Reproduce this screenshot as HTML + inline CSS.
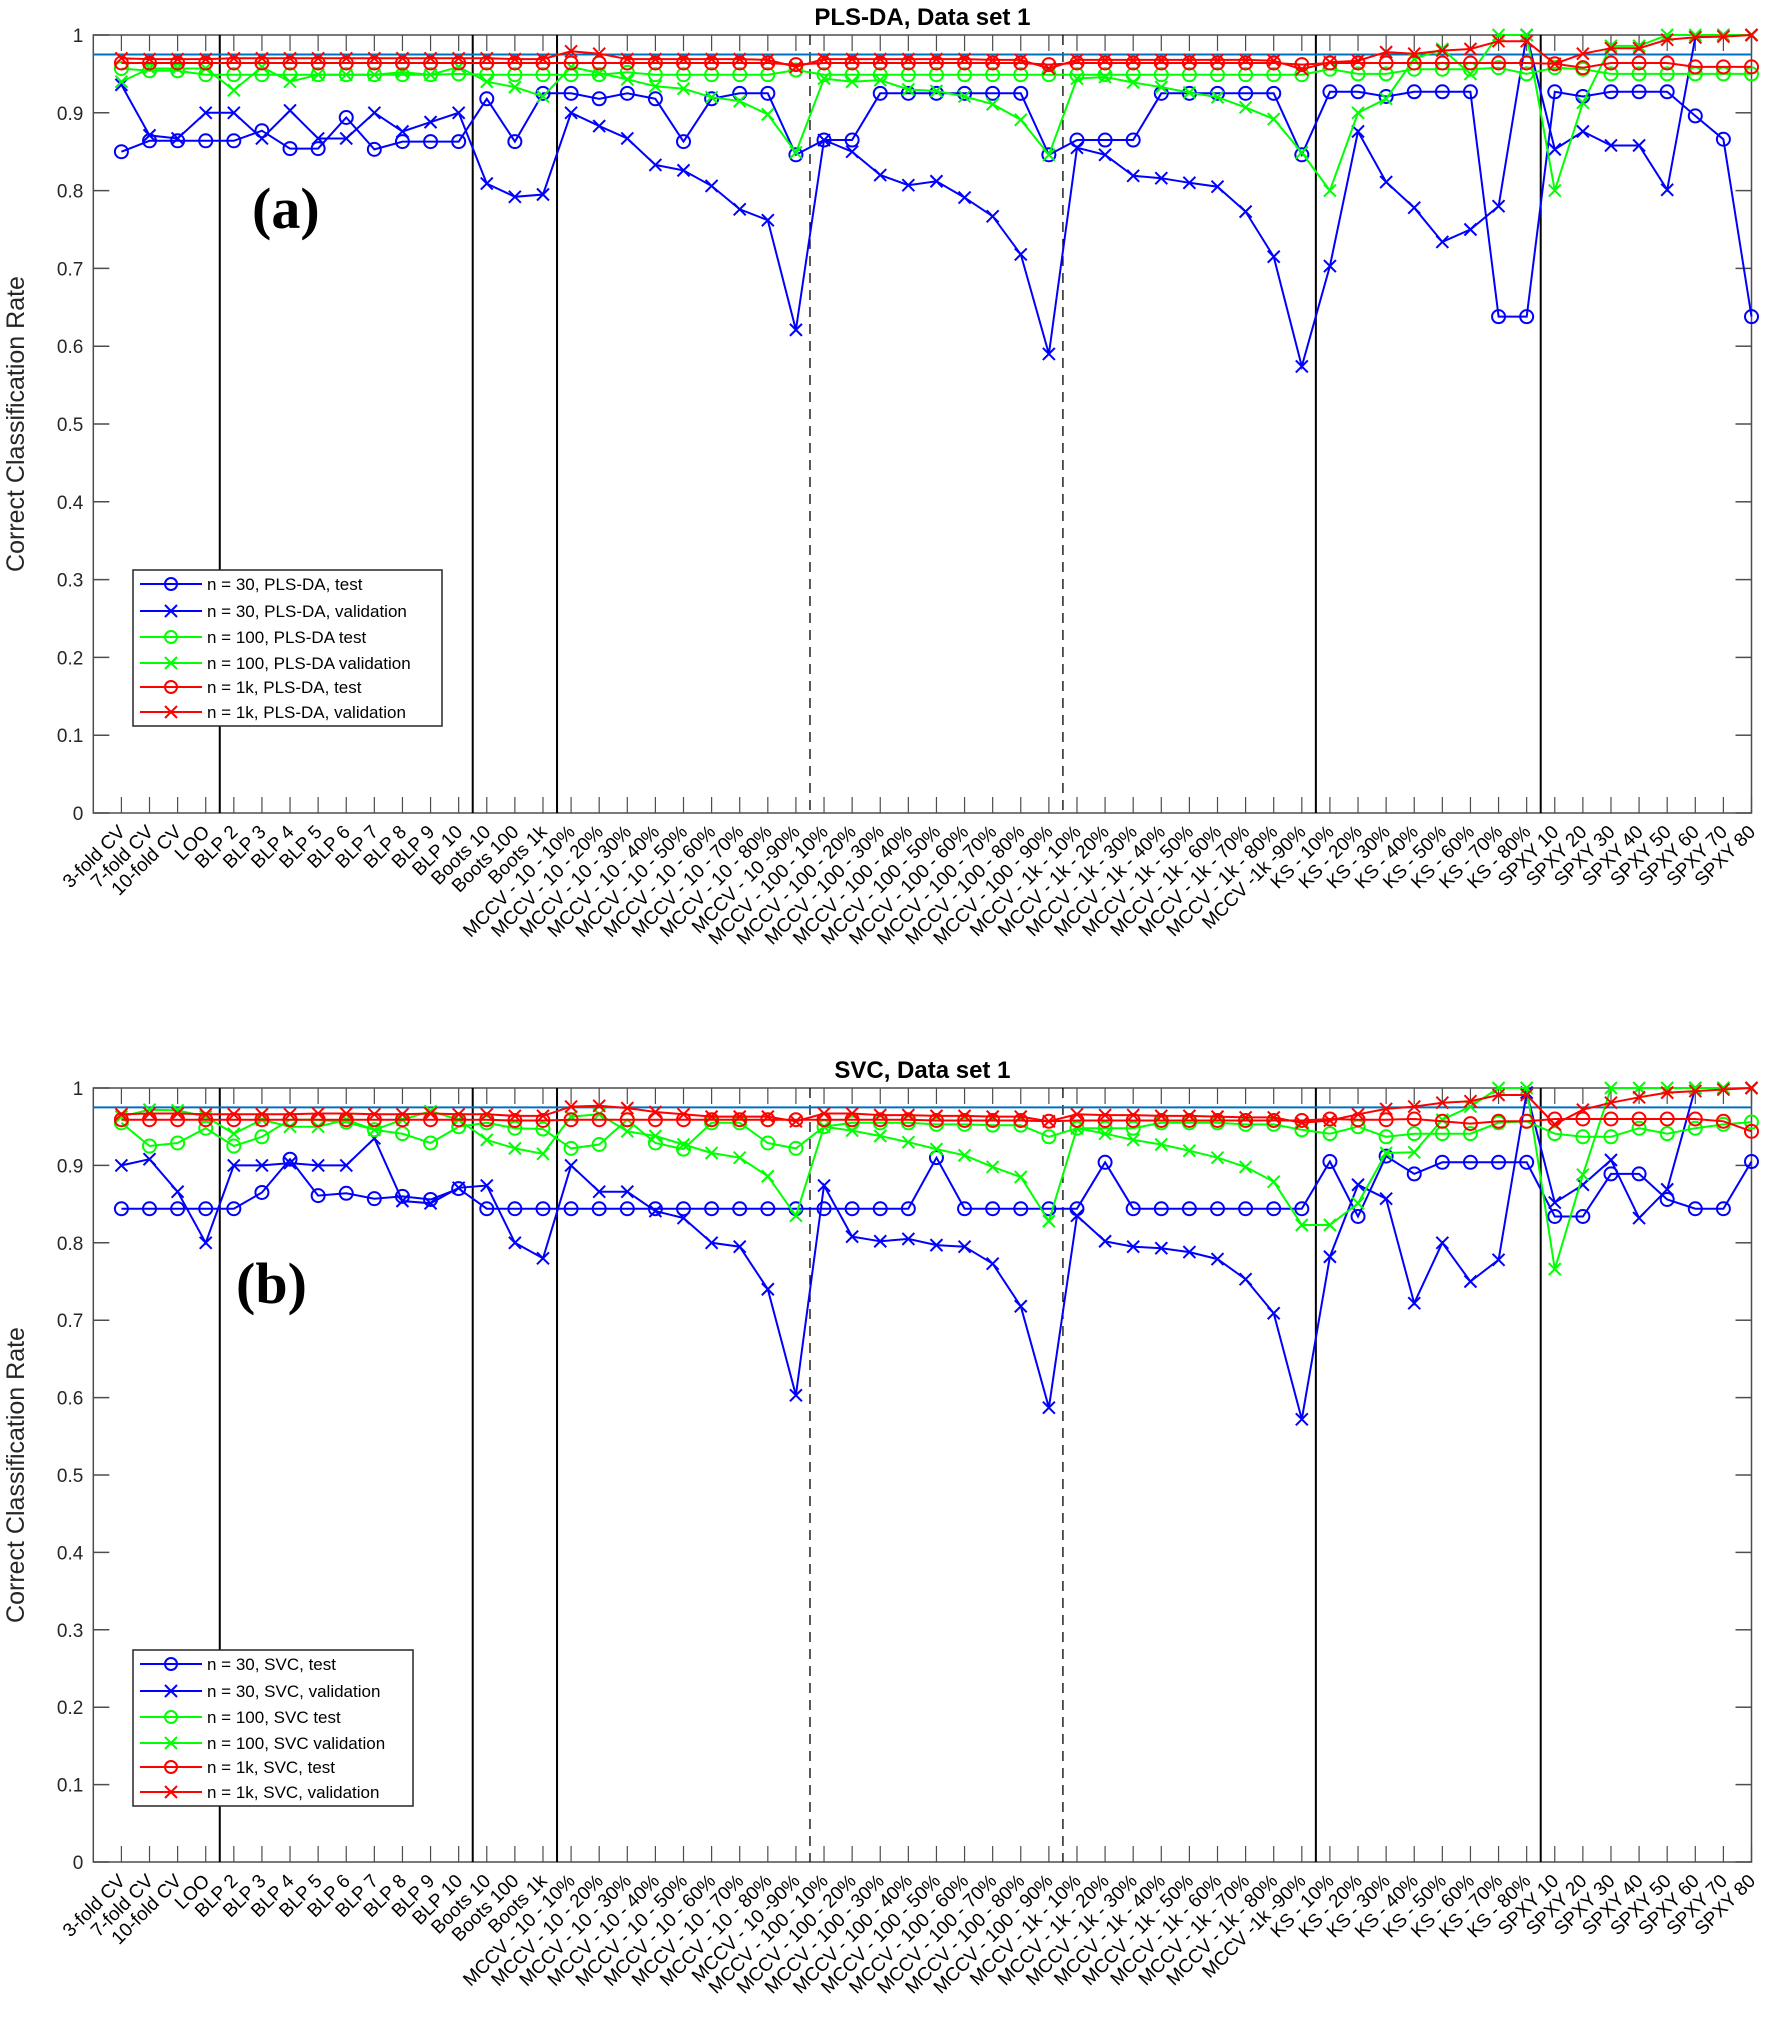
<!DOCTYPE html>
<html><head><meta charset="utf-8"><style>
html,body{margin:0;padding:0;background:#fff;}
svg{display:block;font-family:"Liberation Sans",Arial,sans-serif;}
</style></head><body>
<svg id="fig" width="1773" height="2020" viewBox="0 0 1773 2020" xmlns="http://www.w3.org/2000/svg"></svg>
<script>
// ---- data ----
const categories = ["3-fold CV","7-fold CV","10-fold CV","LOO","BLP 2","BLP 3","BLP 4","BLP 5","BLP 6","BLP 7","BLP 8","BLP 9","BLP 10","Boots 10","Boots 100","Boots 1k",
"MCCV - 10 - 10%","MCCV - 10 - 20%","MCCV - 10 - 30%","MCCV - 10 - 40%","MCCV - 10 - 50%","MCCV - 10 - 60%","MCCV - 10 - 70%","MCCV - 10 - 80%","MCCV - 10 -90%",
"MCCV - 100 - 10%","MCCV - 100 - 20%","MCCV - 100 - 30%","MCCV - 100 - 40%","MCCV - 100 - 50%","MCCV - 100 - 60%","MCCV - 100 - 70%","MCCV - 100 - 80%","MCCV - 100 - 90%",
"MCCV - 1k - 10%","MCCV - 1k - 20%","MCCV - 1k - 30%","MCCV - 1k - 40%","MCCV - 1k - 50%","MCCV - 1k - 60%","MCCV - 1k - 70%","MCCV - 1k - 80%","MCCV -1k -90%",
"KS - 10%","KS - 20%","KS - 30%","KS - 40%","KS - 50%","KS - 60%","KS - 70%","KS - 80%",
"SPXY 10","SPXY 20","SPXY 30","SPXY 40","SPXY 50","SPXY 60","SPXY 70","SPXY 80"];
const yTicks = [0,0.1,0.2,0.3,0.4,0.5,0.6,0.7,0.8,0.9,1];
const yTickLabels = ["0","0.1","0.2","0.3","0.4","0.5","0.6","0.7","0.8","0.9","1"];
const solidSeparators = [4.5,13.5,16.5,43.5,51.5];
const dashedSeparators = [25.5,34.5];
const referenceLevel = 0.975;

const aBlueTest = [0.85,0.864,0.864,0.864,0.864,0.877,0.854,0.854,0.894,0.853,0.863,0.863,0.863, 0.918,0.863,0.925, 0.925,0.918,0.925,0.918,0.863,0.918,0.925,0.925,0.846, 0.865,0.865,0.925,0.925,0.925,0.925,0.925,0.925,0.846, 0.865,0.865,0.865,0.925,0.925,0.925,0.925,0.925,0.846, 0.927,0.927,0.921,0.927,0.927,0.927,0.638,0.638, 0.927,0.921,0.927,0.927,0.927,0.896,0.866,0.638];
const aBlueVal = [0.936,0.871,0.867,0.9,0.9,0.867,0.903,0.867,0.867,0.9,0.876,0.888,0.9, 0.809,0.792,0.795, 0.9,0.883,0.867,0.833,0.826,0.806,0.776,0.762,0.621, 0.865,0.85,0.82,0.807,0.812,0.791,0.767,0.718,0.59, 0.855,0.846,0.819,0.816,0.81,0.805,0.773,0.715,0.574, 0.703,0.876,0.811,0.778,0.734,0.75,0.78,1.0, 0.853,0.876,0.858,0.858,0.801,0.997,1.0,1.0];
const aGreenTest = [0.957,0.954,0.954,0.949,0.949,0.949,0.949,0.949,0.949,0.949,0.949,0.949,0.95, 0.949,0.949,0.949, 0.949,0.949,0.952,0.949,0.949,0.949,0.949,0.949,0.955, 0.949,0.949,0.949,0.949,0.949,0.949,0.949,0.949,0.949, 0.949,0.949,0.949,0.949,0.949,0.949,0.949,0.949,0.949, 0.956,0.95,0.95,0.956,0.956,0.956,0.958,0.95, 0.958,0.956,0.95,0.95,0.95,0.95,0.95,0.95];
const aGreenVal = [0.94,0.957,0.957,0.957,0.929,0.959,0.94,0.949,0.949,0.949,0.952,0.949,0.959, 0.94,0.933,0.921, 0.959,0.951,0.943,0.934,0.931,0.92,0.915,0.898,0.849, 0.944,0.94,0.942,0.93,0.928,0.921,0.911,0.891,0.846, 0.944,0.946,0.939,0.933,0.926,0.92,0.907,0.892,0.849, 0.80,0.90,0.918,0.969,0.982,0.95,1.0,1.0, 0.80,0.913,0.986,0.986,1.0,1.0,1.0,1.0];
const aRedTest = [0.964,0.964,0.964,0.964,0.964,0.964,0.964,0.964,0.964,0.964,0.964,0.964,0.964, 0.964,0.964,0.964, 0.964,0.964,0.964,0.964,0.964,0.964,0.964,0.964,0.962, 0.964,0.964,0.964,0.964,0.964,0.964,0.964,0.964,0.962, 0.964,0.964,0.964,0.964,0.964,0.964,0.964,0.964,0.962, 0.964,0.964,0.964,0.964,0.964,0.964,0.964,0.964, 0.963,0.958,0.964,0.964,0.964,0.959,0.959,0.959];
const aRedVal = [0.97,0.969,0.969,0.969,0.97,0.97,0.97,0.97,0.97,0.97,0.97,0.97,0.97, 0.97,0.969,0.969, 0.979,0.976,0.969,0.969,0.969,0.969,0.969,0.968,0.959, 0.969,0.969,0.969,0.969,0.969,0.969,0.968,0.968,0.957, 0.968,0.968,0.968,0.968,0.968,0.968,0.968,0.967,0.956, 0.965,0.967,0.978,0.976,0.98,0.982,0.992,0.992, 0.963,0.976,0.983,0.983,0.994,0.997,0.998,1.0];

const bBlueTest = [0.844,0.844,0.844,0.844,0.844,0.865,0.908,0.861,0.864,0.857,0.86,0.856,0.87, 0.844,0.844,0.844, 0.844,0.844,0.844,0.844,0.844,0.844,0.844,0.844,0.844, 0.844,0.844,0.844,0.844,0.91,0.844,0.844,0.844,0.844, 0.844,0.904,0.844,0.844,0.844,0.844,0.844,0.844,0.844, 0.905,0.834,0.912,0.889,0.904,0.904,0.904,0.904, 0.834,0.834,0.889,0.889,0.856,0.844,0.844,0.905];
const bBlueVal = [0.9,0.908,0.866,0.8,0.9,0.9,0.903,0.9,0.9,0.935,0.854,0.851,0.871, 0.874,0.80,0.78, 0.9,0.866,0.866,0.841,0.832,0.80,0.795,0.74,0.603, 0.874,0.808,0.802,0.805,0.797,0.795,0.773,0.718,0.587, 0.835,0.802,0.795,0.793,0.788,0.779,0.753,0.709,0.572, 0.782,0.875,0.857,0.722,0.80,0.75,0.778,0.994, 0.852,0.875,0.907,0.832,0.869,1.0,1.0,1.0];
const bGreenTest = [0.955,0.925,0.929,0.948,0.925,0.937,0.959,0.959,0.956,0.946,0.941,0.929,0.95, 0.955,0.948,0.947, 0.922,0.927,0.959,0.929,0.921,0.955,0.955,0.929,0.922, 0.95,0.955,0.955,0.955,0.953,0.953,0.952,0.952,0.937, 0.948,0.948,0.948,0.955,0.955,0.955,0.953,0.953,0.946, 0.941,0.95,0.937,0.941,0.941,0.941,0.955,0.957, 0.941,0.937,0.937,0.948,0.941,0.948,0.953,0.956];
const bGreenVal = [0.963,0.972,0.971,0.963,0.941,0.959,0.95,0.95,0.959,0.946,0.959,0.97,0.959, 0.933,0.922,0.915, 0.963,0.966,0.944,0.938,0.927,0.916,0.91,0.886,0.835, 0.95,0.945,0.938,0.93,0.921,0.913,0.898,0.885,0.828, 0.948,0.941,0.933,0.927,0.919,0.91,0.898,0.879,0.823, 0.823,0.851,0.916,0.917,0.959,0.976,1.0,1.0, 0.766,0.888,1.0,1.0,1.0,1.0,1.0,1.0];
const bRedTest = [0.959,0.959,0.959,0.959,0.959,0.959,0.959,0.959,0.959,0.959,0.959,0.959,0.959, 0.959,0.958,0.958, 0.959,0.959,0.959,0.959,0.959,0.959,0.959,0.959,0.959, 0.959,0.959,0.959,0.959,0.958,0.958,0.958,0.958,0.957, 0.958,0.958,0.958,0.958,0.958,0.958,0.958,0.958,0.958, 0.96,0.959,0.959,0.96,0.957,0.954,0.957,0.957, 0.96,0.96,0.96,0.96,0.96,0.96,0.957,0.944];
const bRedVal = [0.966,0.967,0.967,0.966,0.966,0.966,0.966,0.967,0.967,0.966,0.966,0.967,0.966, 0.966,0.964,0.964, 0.976,0.977,0.974,0.969,0.966,0.963,0.963,0.963,0.957, 0.967,0.967,0.965,0.965,0.964,0.964,0.963,0.963,0.957, 0.966,0.965,0.965,0.964,0.964,0.963,0.962,0.962,0.955, 0.958,0.966,0.973,0.976,0.981,0.983,0.991,0.991, 0.953,0.972,0.981,0.988,0.994,0.996,0.998,1.0];

const NS = "http://www.w3.org/2000/svg";
const svg = document.getElementById("fig");
function mk(tag, attrs, parent){ const e=document.createElementNS(NS,tag); for(const k in attrs) e.setAttribute(k,attrs[k]); (parent||svg).appendChild(e); return e; }

const XL = 93.3, XR = 1751.5, XMAX = 59;
function xScale(i){ return XL + (XR-XL)*i/XMAX; }

function drawPanel(p){
  const g = mk("g",{});
  
  
  const yS = v => p.y0 - (p.y0-p.y1)*v;
  // title
  const t = mk("text",{x:(XL+XR)/2,y:p.y1-10,"text-anchor":"middle","font-size":"24","font-weight":"bold",fill:"#000"},g);
  t.textContent = p.title;
  
  
  // axes box
  const box = mk("rect",{x:XL,y:p.y1,width:XR-XL,height:p.y0-p.y1,fill:"none",stroke:"#4d4d4d","stroke-width":"1.5"},g);
  
  
  // y ticks
  yTicks.forEach((v,k)=>{
    const y=yS(v);
    mk("line",{x1:XL,x2:XL+16,y1:y,y2:y,stroke:"#4d4d4d","stroke-width":"1.5"},g);
    mk("line",{x1:XR,x2:XR-16,y1:y,y2:y,stroke:"#4d4d4d","stroke-width":"1.5"},g);
    const lb = mk("text",{x:XL-10,y:y+7,"text-anchor":"end","font-size":"19",fill:"#262626"},g);
    lb.textContent = yTickLabels[k];
    
    
  });
  // x ticks + labels
  categories.forEach((c,k)=>{
    const x=xScale(k+1);
    mk("line",{x1:x,x2:x,y1:p.y0,y2:p.y0-16,stroke:"#4d4d4d","stroke-width":"1.2"},g);
    mk("line",{x1:x,x2:x,y1:p.y1,y2:p.y1+16,stroke:"#4d4d4d","stroke-width":"1.2"},g);
    const lb = mk("text",{x:x+5,y:p.y0+20,"text-anchor":"end","font-size":"19",fill:"#000",transform:`rotate(-45 ${x+5} ${p.y0+20})`},g);
    lb.textContent = c;
    
    
  });
  // y axis title
  const yl = mk("text",{x:0,y:0,"text-anchor":"middle","font-size":"25",fill:"#262626",transform:`translate(24 ${(p.y0+p.y1)/2}) rotate(-90)`},g);
  yl.textContent = "Correct Classification Rate";
  
  
  // separators
  solidSeparators.forEach(s=>{
    const l=mk("line",{x1:xScale(s),x2:xScale(s),y1:p.y1,y2:p.y0,stroke:"#000","stroke-width":"2"},g);
    
    
  });
  dashedSeparators.forEach(s=>{
    const l=mk("line",{x1:xScale(s),x2:xScale(s),y1:p.y1,y2:p.y0,stroke:"#000","stroke-width":"1.3","stroke-dasharray":"10 7"},g);
    
    
  });
  // reference line
  const rl = mk("line",{x1:XL,x2:XR,y1:yS(referenceLevel),y2:yS(referenceLevel),stroke:"#0072bd","stroke-width":"2"},g);
  
  
  // panel letter
  const pl = mk("text",{x:p.letterX,y:p.letterY,"font-size":"58","font-weight":"bold","font-family":"Liberation Serif, serif",fill:"#000"},g);
  pl.textContent = p.letter;
  
  
  // series
  p.series.forEach(s=>{
    const sg = mk("g",{},g);
    
    
    const pts = s.data.map((v,k)=>xScale(k+1).toFixed(1)+","+yS(v).toFixed(1)).join(" ");
    const pl2 = mk("polyline",{points:pts,fill:"none",stroke:s.color,"stroke-width":"2"},sg);
    
    
    s.data.forEach((v,k)=>{
      const x=xScale(k+1), y=yS(v);
      let m;
      if(s.marker==="o"){ m=mk("circle",{cx:x,cy:y,r:6.5,fill:"none",stroke:s.color,"stroke-width":"2"},sg); }
      else { m=mk("path",{d:`M${x-6},${y-6}L${x+6},${y+6}M${x-6},${y+6}L${x+6},${y-6}`,stroke:s.color,"stroke-width":"2",fill:"none"},sg); }
      
      
    });
  });
  // legend
  const lg = mk("g",{},g);
  
  
  mk("rect",{x:133,y:p.legTop,width:p.legW,height:156,fill:"#fff",stroke:"#262626","stroke-width":"1.5"},lg);
  const rows=[14,41,67,93,117,142];
  p.series.forEach((s,k)=>{
    const y=p.legTop+rows[k];
    const e = mk("g",{},lg);
    
    
    mk("line",{x1:140,x2:202,y1:y,y2:y,stroke:s.color,"stroke-width":"2"},e);
    if(s.marker==="o") mk("circle",{cx:171,cy:y,r:6,fill:"none",stroke:s.color,"stroke-width":"2"},e);
    else mk("path",{d:`M165,${y-6}L177,${y+6}M165,${y+6}L177,${y-6}`,stroke:s.color,"stroke-width":"2"},e);
    const tx = mk("text",{x:207,y:y+6,"font-size":"17",fill:"#000"},e);
    tx.textContent = s.label;
  });
}

drawPanel({key:"panel-a",title:"PLS-DA, Data set 1",y1:35,y0:813,letter:"(a)",letterX:252,letterY:228,legTop:570,legW:309,
  series:[
    {name:"n30-test",label:"n = 30, PLS-DA, test",data:aBlueTest,color:"#0000ff",marker:"o"},
    {name:"n30-validation",label:"n = 30, PLS-DA, validation",data:aBlueVal,color:"#0000ff",marker:"x"},
    {name:"n100-test",label:"n = 100, PLS-DA test",data:aGreenTest,color:"#00ff00",marker:"o"},
    {name:"n100-validation",label:"n = 100, PLS-DA validation",data:aGreenVal,color:"#00ff00",marker:"x"},
    {name:"n1k-test",label:"n = 1k, PLS-DA, test",data:aRedTest,color:"#ff0000",marker:"o"},
    {name:"n1k-validation",label:"n = 1k, PLS-DA, validation",data:aRedVal,color:"#ff0000",marker:"x"}
  ]});
drawPanel({key:"panel-b",title:"SVC, Data set 1",y1:1088,y0:1862,letter:"(b)",letterX:236,letterY:1303,legTop:1650,legW:280,
  series:[
    {name:"n30-test",label:"n = 30, SVC, test",data:bBlueTest,color:"#0000ff",marker:"o"},
    {name:"n30-validation",label:"n = 30, SVC, validation",data:bBlueVal,color:"#0000ff",marker:"x"},
    {name:"n100-test",label:"n = 100, SVC test",data:bGreenTest,color:"#00ff00",marker:"o"},
    {name:"n100-validation",label:"n = 100, SVC validation",data:bGreenVal,color:"#00ff00",marker:"x"},
    {name:"n1k-test",label:"n = 1k, SVC, test",data:bRedTest,color:"#ff0000",marker:"o"},
    {name:"n1k-validation",label:"n = 1k, SVC, validation",data:bRedVal,color:"#ff0000",marker:"x"}
  ]});
</script>
</body></html>
